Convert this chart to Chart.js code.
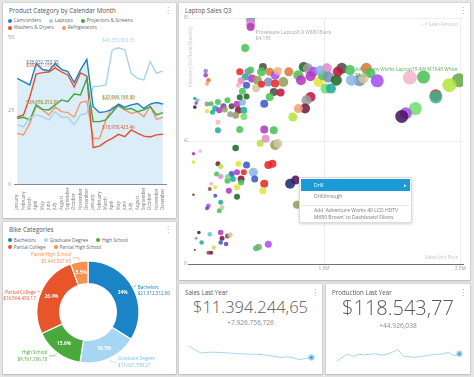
<!DOCTYPE html>
<html>
<head>
<meta charset="utf-8">
<title>Dashboard</title>
<script src="https://cdn.jsdelivr.net/npm/chart.js@4.4.1/dist/chart.umd.min.js"></script>
<style>
  html, body { margin: 0; padding: 0; }
  body { width: 474px; height: 377px; background: #e6e6e6; font-family: 'Open Sans', sans-serif; position: relative; overflow: hidden; }
  .card { position: absolute; background: #fff; box-shadow: 0 0 0 1px rgba(0,0,0,0.05), 0 1px 2px rgba(0,0,0,0.16); }
  .txt { position: absolute; line-height: 1; white-space: nowrap; }
  .title { font-size: 6.2px; color: #555; }
  .kebab { font-size: 8px; color: #a8a8a8; font-family: 'DejaVu Sans', sans-serif; }
  canvas { position: absolute; }
  .legend { position: absolute; display: flex; flex-wrap: wrap; width: 168px; font-size: 4.8px; color: #666; line-height: 7px; }
  .legend span { display: inline-flex; align-items: center; margin-right: 8px; white-space: nowrap; }
  .legend i { display: inline-block; width: 4px; height: 4px; border-radius: 50%; margin-right: 1.8px; }
  .kpi { position: absolute; line-height: 1; text-align: center; white-space: nowrap; }
  .kpi.value { color: #575757; font-weight: 300; }
  .kpi.delta { color: #8a8a8a; font-size: 6.6px; }
  .menu { position: absolute; left: 299px; top: 177px; width: 111px; height: 44px; background: #fff; border: 1px solid #dcdcdc; box-shadow: 0 1px 3px rgba(0,0,0,0.18); font-size: 5px; color: #7a7a7a; }
  .menu .drill { position: absolute; left: 1px; top: 1px; width: 109px; height: 12px; background: #1b9ad8; color: #fff; line-height: 12px; }
  .menu .drill b { font-weight: normal; position: absolute; left: 13px; }
  .menu .drill em { font-style: normal; position: absolute; right: 3px; font-size: 5px; }
  .menu .item { position: absolute; left: 14px; line-height: 1; white-space: nowrap; }
  .menu .sep { position: absolute; left: 1px; right: 1px; top: 27px; height: 1px; background: #e8e8e8; }
</style>
</head>
<body>

<div class="card" style="left:3px; top:3px; width:173px; height:215px;"></div>
<div class="card" style="left:3px; top:222px; width:173px; height:152px;"></div>
<div class="card" style="left:179px; top:3px; width:291px; height:277px;"></div>
<div class="card" style="left:179px; top:284px; width:143px; height:90px;"></div>
<div class="card" style="left:326px; top:284px; width:144px; height:90px;"></div>

<div class="txt title" style="left:9px; top:7.7px;">Product Category by Calendar Month</div>
<div class="txt kebab" style="left:164px; top:7px;">⋮</div>
<div class="legend" id="lineLegend" style="left:8px; top:17.2px;"></div>
<canvas id="lineChart" width="173" height="187" style="left:3px; top:30px;"></canvas>

<div class="txt title" style="left:9px; top:226.7px;">Bike Categories</div>
<div class="txt kebab" style="left:164px; top:226px;">⋮</div>
<div class="legend" id="bikeLegend" style="left:8px; top:237px; line-height:6.5px;"></div>
<canvas id="bikeChart" width="173" height="120" style="left:3px; top:252px;"></canvas>

<div class="txt title" style="left:185px; top:8.4px;">Laptop Sales Q3</div>
<div class="txt kebab" style="left:459px; top:7px;">⋮</div>
<canvas id="laptopChart" width="291" height="277" style="left:179px; top:3px;"></canvas>

<div class="menu">
  <div class="drill"><b>Drill</b><em>▸</em></div>
  <div class="item" style="top:16.4px;">Drillthrough</div>
  <div class="sep"></div>
  <div class="item" style="top:30.4px;">Add 'Adventure Works 40 LCD HDTV</div>
  <div class="item" style="top:37px;">M680 Brown' to Dashboard Filters</div>
</div>

<div class="txt title" style="left:185px; top:290px;">Sales Last Year</div>
<div class="txt kebab" style="left:311px; top:289px;">⋮</div>
<div class="kpi value" id="salesValue" style="left:179px; width:143px; top:299.3px; font-size:16.5px;"></div>
<div class="kpi delta" id="salesDelta" style="left:179px; width:143px; top:319.8px;"></div>
<canvas id="salesSpark" width="136" height="34" style="left:182px; top:336px;"></canvas>

<div class="txt title" style="left:332px; top:290px;">Production Last Year</div>
<div class="txt kebab" style="left:459px; top:289px;">⋮</div>
<div class="kpi value" id="prodValue" style="left:326px; width:144px; top:298.4px; font-size:20px;"></div>
<div class="kpi delta" id="prodDelta" style="left:326px; width:144px; top:323.2px;"></div>
<canvas id="prodSpark" width="136" height="34" style="left:330px; top:336px;"></canvas>

<script>
// ---- Product Category by Calendar Month (values in millions) ----
const months = ['January', 'February', 'March', 'April', 'May', 'June', 'July', 'August', 'September', 'October', 'November', 'December'];
const monthLabels = months.concat(months);
const productCategories = ['Camcorders', 'Laptops', 'Projectors & Screens', 'Washers & Dryers', 'Refrigerators'];
const camcorders    = [35.9, 34.8, 33.7, 41.0, 38.93275395, 38.5, 41.0, 39.0, 38.2, 34.5, 38.8, 42.4, 26.3, 24.3, 24.6, 25.4, 27.2, 26.1, 26.9, 27.4, 25.7, 27.2, 27.7, 27.2];
const laptops       = [20.1, 19.5, 22.4, 23.5, 22.9, 21.8, 24.6, 22.7, 22.7, 20.1, 23.5, 24.0, 33.1, 33.3, 33.7, 45.6, 46.35, 45.6, 37.6, 35.9, 35.4, 41.6, 37.6, 38.5];
const projectors    = [22.3, 22.7, 21.8, 26.9, 25.4, 25.2, 26.9, 28.6, 28.0, 30.6, 30.3, 35.9, 21.2, 21.2, 21.8, 24.3, 26.9, 25.4, 25.7, 24.6, 25.2, 26.3, 23.5, 24.3];
const washers       = [22.8, 23.5, 29.6, 37.4, 37.9, 38.1, 39.5, 38.1, 37.1, 33.0, 37.8, 36.7, 12.4, 12.9, 14.4, 15.5, 16.9, 16.1, 18.4, 17.3, 16.3, 16.0, 16.7, 16.9];
const refrigerators = [17.2, 16.7, 20.6, 26.5, 25.2, 23.5, 26.1, 24.6, 24.3, 22.7, 27.7, 28.2, 15.5, 15.5, 21.8, 26.1, 26.5, 25.2, 24.0, 24.6, 22.9, 26.5, 22.0, 22.7];
const categoryTicks = [0, 25, 50];
const lineCallouts = [
  { series: 0, index: 4, text: '$38,932,753.95' },
  { series: 3, index: 4, text: '$38,181,155.20' },
  { series: 2, index: 4, text: '$24,658,212.51' },
  { series: 4, index: 4, text: '$24,110,352.96' },
  { series: 1, index: 16, text: '$46,353,382.55' },
  { series: 2, index: 16, text: '$27,909,180.30' },
  { series: 4, index: 16, text: '$26,541,137.80' },
  { series: 3, index: 16, text: '$18,958,423.46' }
];

// ---- Bike Categories ----
const bikeCategories = ['Bachelors', 'Graduate Degree', 'High School', 'Partial College', 'Partial High School'];
const bikeSales = [21312312.80, 11621539.27, 9761186.18, 16564492.17, 3443827.65];

// ---- Laptop Sales Q3: unit price (M), inventory (k), sales amount ----
const laptopPrice = [
  0.96, 0.96, 0.96, 0.92, 0.63, 0.63, 0.65, 0.64, 0.55, 0.57,
  0.56, 0.55, 0.64, 0.67, 0.72, 0.79, 0.76, 0.70, 0.64, 0.68,
  0.73, 0.77, 0.82, 0.86, 0.90, 0.87, 0.91, 0.85, 0.91, 0.81,
  0.88, 0.88, 0.94, 0.92, 0.89, 0.93, 0.87, 0.97, 1.01, 1.05,
  1.04, 1.10, 1.14, 1.09, 1.16, 1.24, 1.20, 1.14, 1.13, 1.10,
  1.06, 0.90, 0.93, 1.00, 1.04, 0.96, 1.18, 1.35, 1.38, 1.31,
  1.33, 1.42, 1.46, 1.52, 1.49, 1.53, 1.59, 1.63, 1.51, 1.55,
  1.60, 1.69, 1.40, 1.47, 1.81, 1.84, 1.76, 1.70, 1.79, 1.89,
  2.13, 2.23, 2.49, 2.42, 2.32, 2.32, 2.17, 2.10, 2.07, 1.40,
  1.37, 1.36, 1.31, 1.27, 0.72, 0.88, 1.06, 1.13, 1.03, 1.07,
  1.14, 1.16, 0.85, 0.72, 0.54, 0.59, 0.54, 0.72, 0.74, 0.87,
  0.93, 1.09, 1.12, 0.71, 0.82, 0.86, 0.91, 0.98, 0.99, 0.89,
  0.79, 0.83, 1.06, 0.89, 0.67, 0.86, 0.80, 1.05, 0.66, 0.70,
  0.86, 0.54, 0.70, 0.74, 0.65, 0.64, 0.75, 0.73, 1.25, 1.29,
  1.30, 0.79, 0.74, 0.58, 0.66, 0.74, 0.56, 0.60, 0.74, 0.75,
  0.79, 0.81, 0.69, 0.65, 0.67, 0.55, 1.09, 1.02, 1.00, 0.78
];
const laptopInventory = [
  84.3, 82.9, 81.9, 74.6, 66.7, 65.2, 63.5, 62.3, 57.2, 56.6,
  55.6, 54.2, 55.3, 55.4, 56.0, 56.6, 54.5, 53.7, 52.8, 52.4,
  53.1, 53.4, 54.5, 55.2, 55.9, 53.1, 53.1, 51.4, 51.0, 51.7,
  57.6, 66.4, 66.4, 64.6, 63.3, 61.8, 61.8, 64.1, 63.5, 68.1,
  66.4, 66.4, 65.2, 62.9, 66.7, 66.4, 62.9, 62.4, 59.4, 57.7,
  55.4, 59.7, 57.9, 60.7, 62.1, 67.0, 59.3, 68.1, 67.6, 65.2,
  63.5, 66.4, 62.9, 67.6, 65.2, 64.6, 63.5, 67.6, 60.6, 60.6,
  66.4, 67.0, 64.9, 67.0, 67.6, 65.9, 63.5, 63.5, 64.1, 63.3,
  64.4, 64.6, 63.5, 61.8, 58.3, 57.7, 53.7, 52.1, 51.0, 57.7,
  56.6, 53.7, 53.7, 50.8, 46.2, 46.5, 46.5, 46.2, 41.7, 43.3,
  41.1, 41.6, 40.1, 49.0, 38.1, 39.0, 35.2, 34.6, 33.7, 34.6,
  34.2, 34.2, 34.6, 31.1, 31.1, 31.7, 31.7, 31.7, 29.4, 29.4,
  28.8, 29.4, 27.7, 28.2, 27.7, 26.5, 25.3, 25.3, 25.9, 26.5,
  23.2, 23.9, 23.6, 21.3, 20.1, 19.3, 19.5, 18.4, 27.7, 29.0,
  20.5, 30.2, 30.2, 10.9, 10.3, 10.9, 8.9, 7.4, 7.4, 8.9,
  9.7, 10.1, 5.7, 3.9, 3.9, 4.8, 6.8, 5.9, 5.4, 6.9
];
const laptopSales = [
  81, 81, 64, 64, 21, 21, 21, 16, 13, 13,
  13, 13, 25, 25, 36, 36, 36, 36, 19, 25,
  36, 36, 36, 49, 49, 49, 49, 49, 49, 36,
  36, 49, 49, 49, 49, 49, 25, 64, 81, 64,
  81, 64, 81, 81, 64, 81, 100, 64, 64, 64,
  64, 49, 36, 64, 49, 49, 64, 100, 100, 100,
  100, 100, 100, 100, 100, 121, 121, 121, 100, 100,
  100, 100, 100, 81, 121, 100, 144, 121, 100, 169,
  196, 169, 196, 196, 144, 169, 169, 144, 169, 100,
  100, 100, 81, 81, 36, 49, 64, 64, 49, 64,
  100, 81, 44, 25, 13, 13, 13, 25, 25, 36,
  49, 64, 64, 25, 36, 36, 36, 81, 49, 49,
  36, 36, 64, 36, 16, 36, 36, 49, 16, 16,
  36, 6, 16, 25, 21, 16, 25, 25, 100, 81,
  64, 25, 25, 13, 21, 31, 9, 21, 21, 25,
  25, 25, 16, 16, 16, 4, 49, 41, 36, 21
];
const priceTicks = [1.5, 2.5];
const inventoryTicks = [0, 42.5, 85];
const bubbleCallouts = [
  { index: 2, name: 'Proseware Laptop8.9 W880 Black', amount: '$4,135' },
  { index: 71, name: 'Adventure Works Laptop15.4W M1548 White', amount: '$5,069' }
];

// ---- KPI cards ----
const salesLastYear = '$11.394.244,65';
const salesChange = '+7.926.756,726';
const salesTrend = [142, 122, 106, 109, 110, 109, 107, 105, 103, 101, 100, 100, 98, 94, 89, 84, 87, 83, 73, 79, 84];
const productionLastYear = '$118.543,77';
const productionChange = '+44.926,038';
const productionTrend = [65, 85, 100, 90, 100, 97, 100, 102, 95, 100, 110, 122, 90, 88, 84, 90, 92, 97, 100, 101, 110, 92, 102];

// ========================================
const fontFamily = "'Open Sans', sans-serif";
Chart.defaults.font.family = fontFamily;
Chart.defaults.animation = false;
Chart.defaults.events = [];

const lineColors = ['#1f80c4', '#a5d3ef', '#3fa63f', '#e2512b', '#f39a6c'];
const bikeColors = ['#1a84c6', '#a6d6f2', '#4aa93b', '#e9552a', '#f6924f'];

function buildLegend(id, names, colors) {
  const box = document.getElementById(id);
  names.forEach((name, i) => {
    const item = document.createElement('span');
    item.innerHTML = '<i style="background:' + colors[i] + '"></i>' + name;
    box.appendChild(item);
  });
}
buildLegend('lineLegend', productCategories, lineColors);
buildLegend('bikeLegend', bikeCategories, bikeColors);

// Etiquetas de datos del gráfico de líneas
const lineCalloutPlugin = {
  id: 'lineCallouts',
  afterDatasetsDraw(chart) {
    const ctx = chart.ctx;
    ctx.save();
    ctx.font = '4.6px ' + fontFamily;
    ctx.textAlign = 'center';
    ctx.textBaseline = 'middle';
    lineCallouts.forEach(c => {
      const pt = chart.getDatasetMeta(c.series).data[c.index];
      ctx.fillStyle = lineColors[c.series];
      ctx.fillText(c.text, pt.x, pt.y - 7);
    });
    ctx.restore();
  }
};

// Meses verticales, alineados abajo
const monthAxisPlugin = {
  id: 'monthAxis',
  afterDraw(chart) {
    const { ctx, scales: { x } } = chart;
    ctx.save();
    ctx.font = '4.4px ' + fontFamily;
    ctx.fillStyle = '#7a7a7a';
    ctx.textAlign = 'left';
    ctx.textBaseline = 'middle';
    monthLabels.forEach((label, i) => {
      ctx.save();
      ctx.translate(x.getPixelForValue(i), x.bottom - 5);
      ctx.rotate(-Math.PI / 2);
      ctx.fillText(label, 0, 0);
      ctx.restore();
    });
    ctx.restore();
  }
};

new Chart(document.getElementById('lineChart'), {
  type: 'line',
  data: {
    labels: monthLabels,
    datasets: [camcorders, laptops, projectors, washers, refrigerators].map((values, i) => ({
      label: productCategories[i],
      data: values,
      borderColor: lineColors[i],
      backgroundColor: i === 0 ? 'rgba(160, 208, 238, 0.38)' : lineColors[i],
      borderWidth: 1.4,
      pointRadius: 0,
      tension: 0,
      fill: i === 0 ? 'origin' : false
    }))
  },
  options: {
    responsive: false,
    devicePixelRatio: 1,
    layout: { padding: { left: 5, right: 10, top: 7, bottom: 2 } },
    plugins: {
      legend: { display: false },
      tooltip: { enabled: false },
      filler: { drawTime: 'beforeDatasetsDraw' }
    },
    scales: {
      x: {
        offset: true,
        grid: { display: false, drawTicks: false },
        border: { color: '#8a8a8a', width: 1 },
        ticks: { display: false },
        afterFit: s => { s.height = 31; }
      },
      y: {
        min: 0,
        max: 50,
        afterBuildTicks: s => { s.ticks = categoryTicks.map(v => ({ value: v })); },
        grid: { display: false },
        border: { display: false },
        ticks: {
          autoSkip: false,
          crossAlign: 'far',
          padding: 0,
          color: '#9a9a9a',
          font: { size: 5.5 },
          callback: v => v === 0 ? '0' : v + 'M'
        },
        afterFit: s => { s.width = 6; }
      }
    }
  },
  plugins: [lineCalloutPlugin, monthAxisPlugin]
});

// Etiquetas del anillo
const bikeTotal = bikeSales.reduce((a, b) => a + b, 0);
const money = v => '$' + v.toLocaleString('en-US', { minimumFractionDigits: 2, maximumFractionDigits: 2 });

const bikeLabelPlugin = {
  id: 'bikeLabels',
  afterDatasetsDraw(chart) {
    const ctx = chart.ctx;
    const arcs = chart.getDatasetMeta(0).data;
    ctx.save();
    ctx.textBaseline = 'middle';
    arcs.forEach((arc, i) => {
      const mid = (arc.startAngle + arc.endAngle) / 2;
      const cos = Math.cos(mid);
      const sin = Math.sin(mid);
      const rm = (arc.innerRadius + arc.outerRadius) / 2;
      ctx.font = 'bold 4.8px ' + fontFamily;
      ctx.fillStyle = '#ffffff';
      ctx.textAlign = 'center';
      ctx.fillText(parseFloat((bikeSales[i] / bikeTotal * 100).toFixed(1)) + '%', arc.x + cos * rm, arc.y + sin * rm);

      const dir = cos >= 0 ? 1 : -1;
      const x0 = arc.x + cos * (arc.outerRadius + 1), y0 = arc.y + sin * (arc.outerRadius + 1);
      ctx.strokeStyle = bikeColors[i];
      ctx.lineWidth = 0.6;
      ctx.beginPath();
      ctx.moveTo(x0, y0);
      let tx, ty1, ty2;
      if (Math.abs(cos) > 0.8) {
        // etiqueta lateral: debajo del final de la guía
        const x1 = arc.x + cos * (arc.outerRadius + 4), y1 = arc.y + sin * (arc.outerRadius + 4);
        ctx.lineTo(x1, y1);
        tx = x1 + dir * 1.5; ty1 = y1 + 2; ty2 = y1 + 8;
      } else {
        const x1 = arc.x + cos * (arc.outerRadius + 4), y1 = arc.y + sin * (arc.outerRadius + 4);
        const x2 = x1 + dir * 6;
        ctx.lineTo(x1, y1);
        ctx.lineTo(x2, y1);
        tx = x2 + dir * 1.5; ty1 = y1 - 3; ty2 = y1 + 3.5;
      }
      ctx.stroke();
      ctx.font = '4.6px ' + fontFamily;
      ctx.fillStyle = i === 1 ? '#7fc2ea' : bikeColors[i];
      ctx.textAlign = dir > 0 ? 'left' : 'right';
      ctx.fillText(bikeCategories[i], tx, ty1);
      ctx.fillText(money(bikeSales[i]), tx, ty2);
    });
    ctx.restore();
  }
};

new Chart(document.getElementById('bikeChart'), {
  type: 'doughnut',
  data: {
    labels: bikeCategories,
    datasets: [{
      data: bikeSales,
      backgroundColor: bikeColors,
      borderColor: '#ffffff',
      borderWidth: 1.2
    }]
  },
  options: {
    responsive: false,
    devicePixelRatio: 1,
    radius: 51,
    cutout: 33,
    layout: { padding: { right: 3 } },
    plugins: { legend: { display: false }, tooltip: { enabled: false } }
  },
  plugins: [bikeLabelPlugin]
});

// Burbujas
const palette = {
  gb: '#7d8fb8', pk: '#e58cc8', mg: '#b539c2', gr: '#4cc159', or: '#e3773a', sa: '#f2a07e',
  te: '#23ad9c', cy: '#5cc7d6', dk: '#2e2e2e', gg: '#7ea587', pu: '#7a3cc4', ye: '#e6e33c',
  ol: '#95a05e', dg: '#4d4d4d', lb: '#8ab7e6', dr: '#8a1f2e', lg: '#72df72', gy: '#9c9c9c',
  dn: '#1f6b2b', re: '#e52a2a', bl: '#3b5ccc', lp: '#f3b5cd', vi: '#a94ef0', lo: '#f1b27f',
  cr: '#c0193f', be: '#d7c7a1', nv: '#1f2c6e', dp: '#4a1860', yg: '#b3e63c', ma: '#732039',
  br: '#8c5142', og: '#6aa94a', tg: '#3cb58a'
};
const bubblePaint = (
  'gb pk mg gr gb mg or sa te cy mg dk gg gr gr gr pu te ye te ' +
  'mg ol dg mg lb dr te ol lg gy dn re gb te pk bl lp mg ol dg ' +
  'gr or vi gb lo or ol re dg gr bl gr dn be re gr cr dn gy gr ' +
  'mg vi ye pk gr gb dn dg lg te cr gr mg lb or gr gb lb be vi ' +
  'lp gr og yg re tg lg vi dp cr gy ma sa yg te gr mg gr yg pk ' +
  'ol be dn lp mg lp ye ma yg ye bl re re gr bl mg re lb bl ma ' +
  'gr te re gr lp ye mg ye br ye dn ma bl te vi pu be gr nv dp ' +
  'ol lg pk dk cy mg gy te bl ma br be yg br ma ma vi gy gr pu'
).split(' ').map(k => palette[k] + 'e0');

const bubbleNotesPlugin = {
  id: 'bubbleNotes',
  afterDatasetsDraw(chart) {
    const { ctx, chartArea: a } = chart;
    const pts = chart.getDatasetMeta(0).data;
    const offsets = [{ dx: 5, dy: 6, color: '#a9a9a9' }, { dx: 5.3, dy: 0, color: '#55b455' }];
    ctx.save();
    ctx.textBaseline = 'middle';
    ctx.font = '4.6px ' + fontFamily;
    ctx.fillStyle = '#c4c4c4';
    ctx.textAlign = 'right';
    ctx.fillText('○ = Sales Amount', a.right - 5, a.top + 7);
    ctx.fillText('Sales Unit Price', a.right - 5, a.bottom - 6);
    ctx.save();
    ctx.translate(a.left + 2.5, a.top + 39);
    ctx.rotate(-Math.PI / 2);
    ctx.textAlign = 'center';
    ctx.fillText('Inventory On Hand Quantity', 0, 0);
    ctx.restore();
    ctx.textAlign = 'left';
    ctx.font = '4.9px ' + fontFamily;
    bubbleCallouts.forEach((c, i) => {
      const p = pts[c.index];
      const o = offsets[i];
      ctx.fillStyle = o.color;
      ctx.fillText(c.name, p.x + o.dx, p.y + o.dy);
      ctx.fillText(c.amount, p.x + o.dx, p.y + o.dy + 5.5);
    });
    ctx.restore();
  }
};

new Chart(document.getElementById('laptopChart'), {
  type: 'bubble',
  data: {
    datasets: [{
      label: 'Laptops',
      data: laptopPrice.map((x, i) => ({ x: x, y: laptopInventory[i], r: Math.sqrt(laptopSales[i]) / 2 })),
      backgroundColor: bubblePaint,
      borderWidth: 0
    }]
  },
  options: {
    responsive: false,
    devicePixelRatio: 1,
    layout: { padding: { left: 5, right: 7, top: 15, bottom: 4 } },
    plugins: { legend: { display: false }, tooltip: { enabled: false } },
    scales: {
      x: {
        type: 'linear',
        min: 0.5,
        max: 2.52,
        afterBuildTicks: s => { s.ticks = priceTicks.map(v => ({ value: v })); },
        grid: { color: '#eeeeee', drawTicks: false },
        border: { color: '#707070', width: 1 },
        ticks: { padding: 1.5, color: '#a0a0a0', font: { size: 4.8 }, callback: v => v + 'M' },
        afterFit: s => { s.height = 12; }
      },
      y: {
        min: 0,
        max: 85,
        afterBuildTicks: s => { s.ticks = inventoryTicks.map(v => ({ value: v })); },
        grid: { color: '#f0f0f0', drawTicks: false },
        border: { display: false },
        ticks: { autoSkip: false, crossAlign: 'far', padding: 0, color: '#a0a0a0', font: { size: 4.8 }, callback: v => v === 0 ? '0' : v + 'k' },
        afterFit: s => { s.width = 4; }
      }
    }
  },
  plugins: [bubbleNotesPlugin]
});

// KPI
document.getElementById('salesValue').textContent = salesLastYear;
document.getElementById('salesDelta').textContent = salesChange;
document.getElementById('prodValue').textContent = productionLastYear;
document.getElementById('prodDelta').textContent = productionChange;

function createSparkline(canvasId, values) {
  const last = values.length - 1;
  return new Chart(document.getElementById(canvasId), {
    type: 'line',
    data: {
      labels: values.map((v, i) => i),
      datasets: [{
        data: values,
        borderColor: '#a3d6ec',
        borderWidth: 1,
        tension: 0,
        clip: false,
        pointRadius: ctx => ctx.dataIndex === last ? 1.9 : 0,
        pointBackgroundColor: '#1f6f8e',
        pointBorderColor: 'rgba(140, 205, 235, 0.75)',
        pointBorderWidth: 2.6
      }]
    },
    options: {
      responsive: false,
      devicePixelRatio: 1,
      layout: { padding: { left: 4, right: 4, top: 0, bottom: 0 } },
      plugins: { legend: { display: false }, tooltip: { enabled: false } },
      scales: {
        x: { display: false },
        y: { display: false, min: 55, max: 157 }
      }
    }
  });
}
createSparkline('salesSpark', salesTrend);
createSparkline('prodSpark', productionTrend);
</script>
</body>
</html>
